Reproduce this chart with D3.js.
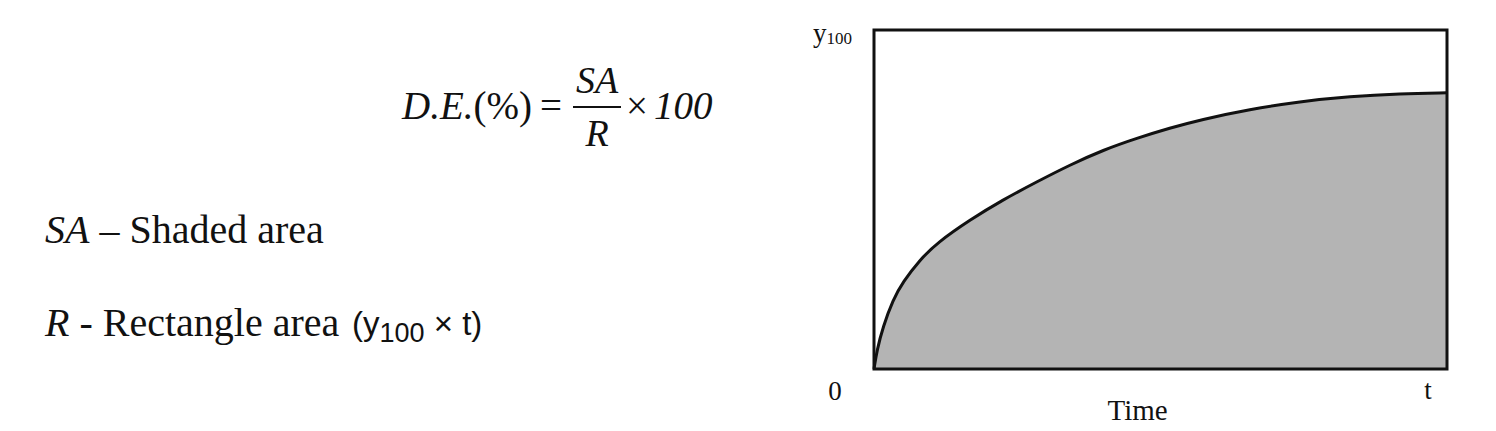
<!DOCTYPE html>
<html>
<head>
<meta charset="utf-8">
<script src="https://cdn.jsdelivr.net/npm/d3@7"></script>
<style>
  html, body { margin: 0; padding: 0; background: #fff; }
  svg { display: block; }
  .serif { font-family: "Liberation Serif", "Times New Roman", serif; fill: #111; }
  .sans { font-family: "Liberation Sans", Arial, sans-serif; fill: #111; }
</style>
</head>
<body>
<div id="chart"></div>
<script>

// Page size
const width = 1496;
const height = 431;

// Plot box (the "rectangle")
const box = {left: 874, right: 1447, top: 30, bottom: 369};

// Data: time and amount dissolved, both as % of t and y100
const timePct = [0, 0.52, 1.57, 3.3, 5.06, 8.0, 11.0, 16.75, 22.5, 28.4, 34.2, 40.0, 45.9, 51.7, 56.9, 65.6, 74.3, 83.1, 91.8, 100];
const dissolvedPct = [0, 5.6, 12.4, 20.4, 25.7, 32.2, 37.2, 44.0, 49.9, 55.2, 60.2, 64.6, 68.1, 71.1, 73.5, 76.6, 78.9, 80.4, 81.2, 81.5];

// Axis end labels
const xTickLabels = ["0", "t"];
const xTitle = "Time";

const points = timePct.map((t, i) => ({t: t, y: dissolvedPct[i]}));

const svg = d3.select("#chart")
  .append("svg")
  .attr("width", width)
  .attr("height", height);

/*

  Scales

*/

let xScale = d3.scaleLinear()
  .domain([0, 100])
  .range([box.left, box.right]);

let yScale = d3.scaleLinear()
  .domain([0, 100])
  .range([box.bottom, box.top]);

/*

  Shaded area + curve

*/

const area = d3.area()
  .x(d => xScale(d.t))
  .y0(yScale(0))
  .y1(d => yScale(d.y))
  .curve(d3.curveBasis);

const line = d3.line()
  .x(d => xScale(d.t))
  .y(d => yScale(d.y))
  .curve(d3.curveBasis);

svg.append("path")
  .datum(points)
  .attr("d", area)
  .attr("fill", "#b4b4b4");

svg.append("path")
  .datum(points)
  .attr("d", line)
  .attr("fill", "none")
  .attr("stroke", "#111")
  .attr("stroke-width", 3);

// rectangle border
svg.append("rect")
  .attr("x", xScale(0))
  .attr("y", yScale(100))
  .attr("width", xScale(100) - xScale(0))
  .attr("height", yScale(0) - yScale(100))
  .attr("fill", "none")
  .attr("stroke", "#111")
  .attr("stroke-width", 3);

/*

  Axis labels

*/

svg.append("text")
  .attr("class", "serif")
  .attr("x", xScale(0) - 39)
  .attr("y", yScale(0) + 31)
  .attr("text-anchor", "middle")
  .attr("font-size", "27px")
  .text(xTickLabels[0]);

svg.append("text")
  .attr("class", "serif")
  .attr("x", xScale(100) - 19)
  .attr("y", yScale(0) + 30)
  .attr("text-anchor", "middle")
  .attr("font-size", "27px")
  .text(xTickLabels[1]);

svg.append("text")
  .attr("class", "serif")
  .attr("x", xScale(46))
  .attr("y", yScale(0) + 51)
  .attr("text-anchor", "middle")
  .attr("font-size", "29px")
  .text(xTitle);

const yLab = svg.append("text")
  .attr("class", "serif")
  .attr("x", xScale(0) - 61)
  .attr("y", yScale(100) + 12);
yLab.append("tspan").attr("font-size", "27px").text("y");
yLab.append("tspan").attr("font-size", "17px").attr("dy", 2).text("100");

/*

  Formula and notes on the left

*/

const de = svg.append("text")
  .attr("class", "serif")
  .attr("x", 402)
  .attr("y", 119)
  .attr("font-size", "39px");
de.append("tspan").attr("font-style", "italic").text("D.E.");
de.append("tspan").text("(%)");

svg.append("text")
  .attr("class", "serif")
  .attr("x", 551)
  .attr("y", 119)
  .attr("text-anchor", "middle")
  .attr("font-size", "39px")
  .text("=");

svg.append("text")
  .attr("class", "serif")
  .attr("x", 597)
  .attr("y", 93)
  .attr("text-anchor", "middle")
  .attr("font-size", "38px")
  .attr("font-style", "italic")
  .text("SA");

svg.append("line")
  .attr("x1", 573).attr("x2", 621)
  .attr("y1", 107).attr("y2", 107)
  .attr("stroke", "#111")
  .attr("stroke-width", 2);

svg.append("text")
  .attr("class", "serif")
  .attr("x", 597)
  .attr("y", 146)
  .attr("text-anchor", "middle")
  .attr("font-size", "38px")
  .attr("font-style", "italic")
  .text("R");

svg.append("text")
  .attr("class", "serif")
  .attr("x", 626)
  .attr("y", 119)
  .attr("font-size", "39px")
  .text("\u00d7");

svg.append("text")
  .attr("class", "serif")
  .attr("x", 654)
  .attr("y", 119)
  .attr("font-size", "39px")
  .attr("font-style", "italic")
  .text("100");

const sa = svg.append("text")
  .attr("class", "serif")
  .attr("x", 45)
  .attr("y", 243)
  .attr("font-size", "40px");
sa.append("tspan").attr("font-style", "italic").text("SA");
sa.append("tspan").text(" \u2013 Shaded area");

const r = svg.append("text")
  .attr("class", "serif")
  .attr("x", 45)
  .attr("y", 336)
  .attr("font-size", "40px");
r.append("tspan").attr("font-style", "italic").text("R");
r.append("tspan").text(" - Rectangle area");

const rr = svg.append("text")
  .attr("class", "sans")
  .attr("x", 352)
  .attr("y", 335)
  .attr("font-size", "33px");
rr.append("tspan").text("(y");
rr.append("tspan").attr("font-size", "27px").attr("dy", 7).text("100");
rr.append("tspan").attr("dy", -7).text(" \u00d7 t)");

</script>
</body>
</html>
